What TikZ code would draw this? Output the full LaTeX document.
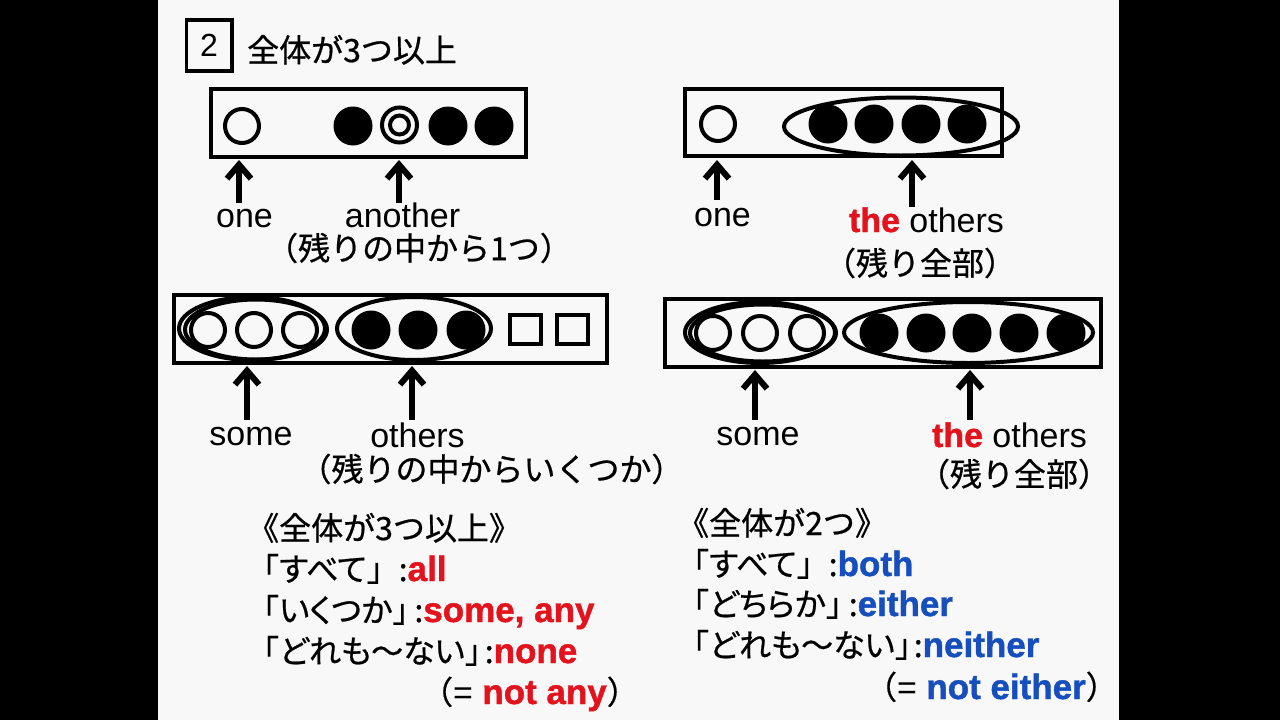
\documentclass[tikz,border=0pt]{standalone}
\usepackage{fontspec}
\setmainfont{Liberation Sans}
\newfontfamily\jp{Noto Sans CJK JP}[FakeBold=0.7]
\usetikzlibrary{arrows.meta,shapes.geometric}
\definecolor{tred}{RGB}{228,18,28}
\definecolor{tblue}{RGB}{22,78,190}
\definecolor{bgc}{RGB}{248,248,248}
\newcommand\redw[1]{{\normalfont\fontsize{35}{40}\selectfont\bfseries\addfontfeature{FakeBold=1.2}\color{tred}#1}}
\newcommand\bluew[1]{{\normalfont\fontsize{35}{40}\selectfont\bfseries\addfontfeature{FakeBold=1.2}\color{tblue}#1}}
\newcommand\pk[1]{{\addfontfeature{RawFeature=+palt}#1}}
\begin{document}
\begin{tikzpicture}[x=1pt,y=-1pt,
  frame/.style={draw,rectangle,line width=4pt,inner sep=0pt},
  ring/.style={draw,circle,line width=4pt,inner sep=0pt,minimum size=34pt},
  dot/.style={fill,circle,inner sep=0pt,minimum size=39pt},
  grp/.style={draw,ellipse,line width=4pt,inner sep=0pt},
  sq/.style={draw,rectangle,line width=4pt,inner sep=0pt,minimum width=31pt,minimum height=29pt},
  arr/.style={line width=6pt,-{Straight Barb[length=14pt,width=24pt]}},
  en/.style={font=\fontsize{34}{40}\selectfont,inner sep=0pt,anchor=base},
  ja/.style={font=\jp\fontsize{32}{36}\selectfont,inner sep=0pt},
  li/.style={font=\jp\fontsize{32}{36}\selectfont,inner sep=0pt,anchor=base west},
  le/.style={font=\jp\fontsize{32}{36}\selectfont,inner sep=0pt,anchor=base east},
]
\useasboundingbox (0,0) rectangle (1280,720);
\fill[black] (0,0) rectangle (158,720);
\fill[black] (1119,0) rectangle (1280,720);
\fill[bgc] (158,0) rectangle (1119,720);

% title
\node[frame,line width=3.5pt,minimum width=45.5pt,minimum height=51pt,font=\fontsize{32}{36}\selectfont] (num) at (209,45.5) {2};
\node[font=\jp\fontsize{32}{36}\selectfont,inner sep=0pt,anchor=base west] (title) at (247,62) {全体が3つ以上};

% ---------- top left ----------
\node[frame,minimum width=315pt,minimum height=68pt] (boxA) at (368.5,123) {};
\node[ring] (a1) at (242,126) {};
\node[dot] (a2) at (353,126) {};
\node[ring,minimum size=35pt] (a3) at (399.5,125) {};
\node[ring,minimum size=19pt] (a3i) at (399.5,125) {};
\node[dot] (a4) at (448,126) {};
\node[dot] (a5) at (494,126) {};
\coordinate (pa1s) at (239,203);
\coordinate (pa1e) at (239,160);
\coordinate (pa2s) at (399,203);
\coordinate (pa2e) at (399,160);
\draw[arr] (pa1s) -- (pa1e);
\draw[arr] (pa2s) -- (pa2e);
\node[en] (la1) at (244.5,227) {one};
\node[en] (la2) at (402.5,227) {another};
\node[ja] (ja1) at (419,248) {（残りの中から1つ）};

% ---------- top right ----------
\node[frame,minimum width=317pt,minimum height=67pt] (boxB) at (843.5,122.5) {};
\node[ring] (b1) at (718,124) {};
\node[dot] (b2) at (828,124) {};
\node[dot] (b3) at (874,124) {};
\node[dot] (b4) at (921,124) {};
\node[dot] (b5) at (967,124) {};
\node[grp,minimum width=234pt,minimum height=58pt] (gb) at (901,126.5) {};
\coordinate (pb1s) at (717,200);
\coordinate (pb1e) at (717,160);
\coordinate (pb2s) at (912,207);
\coordinate (pb2e) at (912,160);
\draw[arr] (pb1s) -- (pb1e);
\draw[arr] (pb2s) -- (pb2e);
\node[en] (lb1) at (722.5,226) {one};
\node[en] (lb2) at (926.5,232) {\textcolor{tred}{\bfseries\addfontfeature{FakeBold=1.2}the} others};
\node[ja] (jb1) at (920,263) {（残り全部）};

% ---------- bottom left ----------
\node[frame,minimum width=433pt,minimum height=68pt] (boxC) at (390.5,329) {};
\node[ring] (c1) at (208,330) {};
\node[ring] (c2) at (254,330) {};
\node[ring] (c3) at (300,330) {};
\node[grp,minimum width=146pt,minimum height=63pt] (gc1) at (252,328.5) {};
\node[grp,minimum width=142pt,minimum height=60pt] (gc1i) at (256,329.5) {};
\node[dot] (c4) at (371,330) {};
\node[dot] (c5) at (418,330) {};
\node[dot] (c6) at (466,330) {};
\node[grp,minimum width=154pt,minimum height=63pt] (gc2) at (414,328.5) {};
\node[sq] (c7) at (525,329) {};
\node[sq] (c8) at (572.5,329) {};
\coordinate (pc1s) at (247,420);
\coordinate (pc1e) at (247,366);
\coordinate (pc2s) at (412,420);
\coordinate (pc2e) at (412,366);
\draw[arr] (pc1s) -- (pc1e);
\draw[arr] (pc2s) -- (pc2e);
\node[en] (lc1) at (251,445) {some};
\node[en] (lc2) at (417.5,447) {others};
\node[ja] (jc1) at (491.5,469) {（残りの中からいくつか）};

% ---------- bottom right ----------
\node[frame,minimum width=436pt,minimum height=68pt] (boxD) at (883,333) {};
\node[ring] (d1) at (713,333) {};
\node[ring] (d2) at (760,333) {};
\node[ring] (d3) at (807,333) {};
\node[grp,minimum width=150pt,minimum height=61pt] (gd1) at (760,332.5) {};
\node[grp,minimum width=146pt,minimum height=57pt] (gd1i) at (763,333) {};
\node[dot] (d4) at (879,333) {};
\node[dot] (d5) at (926,333) {};
\node[dot] (d6) at (972,333) {};
\node[dot] (d7) at (1019,333) {};
\node[dot] (d8) at (1066,333) {};
\node[grp,minimum width=249pt,minimum height=61pt] (gd2) at (968.5,332.5) {};
\coordinate (pd1s) at (755,420);
\coordinate (pd1e) at (755,370);
\coordinate (pd2s) at (970,420);
\coordinate (pd2e) at (970,370);
\draw[arr] (pd1s) -- (pd1e);
\draw[arr] (pd2s) -- (pd2e);
\node[en] (ld1) at (758,445) {some};
\node[en] (ld2) at (1009.5,447) {\textcolor{tred}{\bfseries\addfontfeature{FakeBold=1.2}the} others};
\node[ja] (jd1) at (1014,474) {（残り全部）};

% ---------- lists ----------
\node[li] (k1) at (247,540) {《全体が3つ以上》};
\node[li] (k2) at (247,581) {「\pk{すべて}」:\redw{all}};
\node[li] (k3) at (247,622) {「\pk{いくつか}」\kern-10pt:\redw{some, any}};
\node[li] (k4) at (247,663) {「\pk{どれも〜ない}」\kern-12pt:\redw{none}};
\node[le] (k5) at (639,704) {（{\normalfont\fontsize{34}{40}\selectfont = }\redw{not any}）};

\node[li] (m1) at (677,535) {《全体が2つ》};
\node[li] (m2) at (677,576) {「\pk{すべて}」:\bluew{both}};
\node[li] (m3) at (677,616) {「\pk{どちらか}」\kern-9pt:\bluew{either}};
\node[li] (m4) at (677,657) {「\pk{どれも〜ない}」\kern-13pt:\bluew{neither}};
\node[le] (m5) at (1118,699) {（{\normalfont\fontsize{34}{40}\selectfont = }\bluew{not either}）};
\end{tikzpicture}
\end{document}
